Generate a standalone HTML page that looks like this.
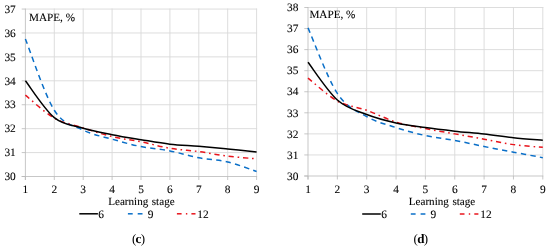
<!DOCTYPE html>
<html><head><meta charset="utf-8"><title>MAPE charts</title>
<style>
html,body{margin:0;padding:0;background:#fff;}
svg{display:block;}
text{font-family:"Liberation Serif","Times New Roman",serif;fill:#000;stroke:#000;stroke-width:0.09px;text-rendering:geometricPrecision;}
.t{font-size:11.4px;}
.cap{font-size:13px;stroke:none;letter-spacing:-0.6px;}
</style></head><body>
<svg width="550" height="249" viewBox="0 0 550 249">
<rect width="550" height="249" fill="#fff"/>

<g stroke="#d9d9d9" stroke-width="0.9" fill="none"><line x1="25.40" y1="9.05" x2="257.10" y2="9.05"/><line x1="25.40" y1="32.97" x2="257.10" y2="32.97"/><line x1="25.40" y1="56.89" x2="257.10" y2="56.89"/><line x1="25.40" y1="80.81" x2="257.10" y2="80.81"/><line x1="25.40" y1="104.74" x2="257.10" y2="104.74"/><line x1="25.40" y1="128.66" x2="257.10" y2="128.66"/><line x1="25.40" y1="152.58" x2="257.10" y2="152.58"/><line x1="54.30" y1="8.55" x2="54.30" y2="176.50"/><line x1="83.20" y1="8.55" x2="83.20" y2="176.50"/><line x1="112.10" y1="8.55" x2="112.10" y2="176.50"/><line x1="141.00" y1="8.55" x2="141.00" y2="176.50"/><line x1="169.90" y1="8.55" x2="169.90" y2="176.50"/><line x1="198.80" y1="8.55" x2="198.80" y2="176.50"/><line x1="227.70" y1="8.55" x2="227.70" y2="176.50"/><line x1="256.60" y1="8.55" x2="256.60" y2="176.50"/></g>
<g stroke="#b9b9b9" stroke-width="0.8" fill="none"><line x1="21.70" y1="9.05" x2="25.40" y2="9.05"/><line x1="21.70" y1="32.97" x2="25.40" y2="32.97"/><line x1="21.70" y1="56.89" x2="25.40" y2="56.89"/><line x1="21.70" y1="80.81" x2="25.40" y2="80.81"/><line x1="21.70" y1="104.74" x2="25.40" y2="104.74"/><line x1="21.70" y1="128.66" x2="25.40" y2="128.66"/><line x1="21.70" y1="152.58" x2="25.40" y2="152.58"/><line x1="21.70" y1="176.50" x2="25.40" y2="176.50"/><line x1="25.40" y1="176.50" x2="25.40" y2="180.00"/><line x1="54.30" y1="176.50" x2="54.30" y2="180.00"/><line x1="83.20" y1="176.50" x2="83.20" y2="180.00"/><line x1="112.10" y1="176.50" x2="112.10" y2="180.00"/><line x1="141.00" y1="176.50" x2="141.00" y2="180.00"/><line x1="169.90" y1="176.50" x2="169.90" y2="180.00"/><line x1="198.80" y1="176.50" x2="198.80" y2="180.00"/><line x1="227.70" y1="176.50" x2="227.70" y2="180.00"/><line x1="256.60" y1="176.50" x2="256.60" y2="180.00"/><line x1="25.40" y1="8.55" x2="25.40" y2="180.00"/><line x1="21.70" y1="176.50" x2="257.10" y2="176.50"/></g>
<text class="t" x="15.80" y="12.75" text-anchor="end">37</text>
<text class="t" x="15.80" y="36.67" text-anchor="end">36</text>
<text class="t" x="15.80" y="60.59" text-anchor="end">35</text>
<text class="t" x="15.80" y="84.51" text-anchor="end">34</text>
<text class="t" x="15.80" y="108.44" text-anchor="end">33</text>
<text class="t" x="15.80" y="132.36" text-anchor="end">32</text>
<text class="t" x="15.80" y="156.28" text-anchor="end">31</text>
<text class="t" x="15.80" y="180.20" text-anchor="end">30</text>
<text class="t" x="25.40" y="193.1" text-anchor="middle">1</text>
<text class="t" x="54.30" y="193.1" text-anchor="middle">2</text>
<text class="t" x="83.20" y="193.1" text-anchor="middle">3</text>
<text class="t" x="112.10" y="193.1" text-anchor="middle">4</text>
<text class="t" x="141.00" y="193.1" text-anchor="middle">5</text>
<text class="t" x="169.90" y="193.1" text-anchor="middle">6</text>
<text class="t" x="198.80" y="193.1" text-anchor="middle">7</text>
<text class="t" x="227.70" y="193.1" text-anchor="middle">8</text>
<text class="t" x="256.60" y="193.1" text-anchor="middle">9</text>
<text class="t" style="font-size:11.2px" x="29.00" y="20.75">MAPE, %</text>
<text class="t" style="font-size:11.1px;word-spacing:0.8px" x="141.40" y="205.10" text-anchor="middle">Learning stage</text>
<path d="M25.40,38.95C30.22,50.83 44.67,95.05 54.30,110.24C63.93,125.43 73.57,125.27 83.20,130.09C92.83,134.92 102.47,136.43 112.10,139.18C121.73,141.93 131.37,144.64 141.00,146.60C150.63,148.55 160.27,149.03 169.90,150.90C179.53,152.78 189.17,156.01 198.80,157.84C208.43,159.68 218.07,159.64 227.70,161.91C237.33,164.18 251.78,169.88 256.60,171.48" fill="none" stroke="#0a6fc8" stroke-width="1.5" stroke-dasharray="5.3 4.3"/>
<path d="M25.40,95.17C30.22,98.99 44.67,112.67 54.30,118.13C63.93,123.59 73.57,124.87 83.20,127.94C92.83,131.01 102.47,134.24 112.10,136.55C121.73,138.86 131.37,139.86 141.00,141.81C150.63,143.77 160.27,146.64 169.90,148.27C179.53,149.91 189.17,150.31 198.80,151.62C208.43,152.94 218.07,154.97 227.70,156.17C237.33,157.36 251.78,158.36 256.60,158.80" fill="none" stroke="#e8141c" stroke-width="1.5" stroke-dasharray="5.2 3.8 1.6 3.8"/>
<path d="M25.40,80.81C30.22,86.95 44.67,109.76 54.30,117.65C63.93,125.55 73.57,125.35 83.20,128.18C92.83,131.01 102.47,132.72 112.10,134.64C121.73,136.55 131.37,138.07 141.00,139.66C150.63,141.26 160.27,143.09 169.90,144.21C179.53,145.32 189.17,145.56 198.80,146.36C208.43,147.16 218.07,148.03 227.70,148.99C237.33,149.95 251.78,151.58 256.60,152.10" fill="none" stroke="#000" stroke-width="1.5"/>
<line x1="79.30" y1="213.8" x2="97.90" y2="213.8" stroke="#000" stroke-width="1.5"/>
<text class="t" x="98.30" y="217.60000000000002">6</text>
<line x1="127.90" y1="213.8" x2="132.70" y2="213.8" stroke="#0a6fc8" stroke-width="1.5"/><line x1="137.70" y1="213.8" x2="142.50" y2="213.8" stroke="#0a6fc8" stroke-width="1.5"/>
<text class="t" x="147.70" y="217.60000000000002">9</text>
<line x1="176.90" y1="213.8" x2="181.60" y2="213.8" stroke="#e8141c" stroke-width="1.5"/><line x1="185.90" y1="213.8" x2="187.30" y2="213.8" stroke="#e8141c" stroke-width="1.5"/><line x1="191.40" y1="213.8" x2="195.50" y2="213.8" stroke="#e8141c" stroke-width="1.5"/>
<text class="t" x="197.30" y="217.60000000000002">12</text>
<text class="cap" x="138.2" y="243" text-anchor="middle">(<tspan font-weight="bold">c</tspan>)</text>
<g stroke="#d9d9d9" stroke-width="0.9" fill="none"><line x1="308.00" y1="7.50" x2="543.30" y2="7.50"/><line x1="308.00" y1="28.56" x2="543.30" y2="28.56"/><line x1="308.00" y1="49.62" x2="543.30" y2="49.62"/><line x1="308.00" y1="70.69" x2="543.30" y2="70.69"/><line x1="308.00" y1="91.75" x2="543.30" y2="91.75"/><line x1="308.00" y1="112.81" x2="543.30" y2="112.81"/><line x1="308.00" y1="133.88" x2="543.30" y2="133.88"/><line x1="308.00" y1="154.94" x2="543.30" y2="154.94"/><line x1="337.35" y1="7.00" x2="337.35" y2="176.00"/><line x1="366.70" y1="7.00" x2="366.70" y2="176.00"/><line x1="396.05" y1="7.00" x2="396.05" y2="176.00"/><line x1="425.40" y1="7.00" x2="425.40" y2="176.00"/><line x1="454.75" y1="7.00" x2="454.75" y2="176.00"/><line x1="484.10" y1="7.00" x2="484.10" y2="176.00"/><line x1="513.45" y1="7.00" x2="513.45" y2="176.00"/><line x1="542.80" y1="7.00" x2="542.80" y2="176.00"/></g>
<g stroke="#b9b9b9" stroke-width="0.8" fill="none"><line x1="304.30" y1="7.50" x2="308.00" y2="7.50"/><line x1="304.30" y1="28.56" x2="308.00" y2="28.56"/><line x1="304.30" y1="49.62" x2="308.00" y2="49.62"/><line x1="304.30" y1="70.69" x2="308.00" y2="70.69"/><line x1="304.30" y1="91.75" x2="308.00" y2="91.75"/><line x1="304.30" y1="112.81" x2="308.00" y2="112.81"/><line x1="304.30" y1="133.88" x2="308.00" y2="133.88"/><line x1="304.30" y1="154.94" x2="308.00" y2="154.94"/><line x1="304.30" y1="176.00" x2="308.00" y2="176.00"/><line x1="308.00" y1="176.00" x2="308.00" y2="179.50"/><line x1="337.35" y1="176.00" x2="337.35" y2="179.50"/><line x1="366.70" y1="176.00" x2="366.70" y2="179.50"/><line x1="396.05" y1="176.00" x2="396.05" y2="179.50"/><line x1="425.40" y1="176.00" x2="425.40" y2="179.50"/><line x1="454.75" y1="176.00" x2="454.75" y2="179.50"/><line x1="484.10" y1="176.00" x2="484.10" y2="179.50"/><line x1="513.45" y1="176.00" x2="513.45" y2="179.50"/><line x1="542.80" y1="176.00" x2="542.80" y2="179.50"/><line x1="308.00" y1="7.00" x2="308.00" y2="179.50"/><line x1="304.30" y1="176.00" x2="543.30" y2="176.00"/></g>
<text class="t" x="298.40" y="11.20" text-anchor="end">38</text>
<text class="t" x="298.40" y="32.26" text-anchor="end">37</text>
<text class="t" x="298.40" y="53.33" text-anchor="end">36</text>
<text class="t" x="298.40" y="74.39" text-anchor="end">35</text>
<text class="t" x="298.40" y="95.45" text-anchor="end">34</text>
<text class="t" x="298.40" y="116.51" text-anchor="end">33</text>
<text class="t" x="298.40" y="137.57" text-anchor="end">32</text>
<text class="t" x="298.40" y="158.64" text-anchor="end">31</text>
<text class="t" x="298.40" y="179.70" text-anchor="end">30</text>
<text class="t" x="308.00" y="193.1" text-anchor="middle">1</text>
<text class="t" x="337.35" y="193.1" text-anchor="middle">2</text>
<text class="t" x="366.70" y="193.1" text-anchor="middle">3</text>
<text class="t" x="396.05" y="193.1" text-anchor="middle">4</text>
<text class="t" x="425.40" y="193.1" text-anchor="middle">5</text>
<text class="t" x="454.75" y="193.1" text-anchor="middle">6</text>
<text class="t" x="484.10" y="193.1" text-anchor="middle">7</text>
<text class="t" x="513.45" y="193.1" text-anchor="middle">8</text>
<text class="t" x="542.80" y="193.1" text-anchor="middle">9</text>
<text class="t" style="font-size:11.2px" x="309.40" y="18.20">MAPE, %</text>
<text class="t" style="font-size:11.1px;word-spacing:0.8px" x="442.00" y="204.60" text-anchor="middle">Learning stage</text>
<path d="M308.00,27.93C312.89,38.85 327.57,78.66 337.35,93.43C347.13,108.21 356.92,110.92 366.70,116.60C376.48,122.29 386.27,124.40 396.05,127.56C405.83,130.72 415.62,133.42 425.40,135.56C435.18,137.70 444.97,138.58 454.75,140.40C464.53,142.23 474.32,144.55 484.10,146.51C493.88,148.48 503.67,150.34 513.45,152.20C523.23,154.06 537.91,156.76 542.80,157.68" fill="none" stroke="#0a6fc8" stroke-width="1.5" stroke-dasharray="5.3 4.3"/>
<path d="M308.00,78.06C312.89,81.89 327.57,95.65 337.35,101.02C347.13,106.39 356.92,106.77 366.70,110.29C376.48,113.80 386.27,119.03 396.05,122.08C405.83,125.13 415.62,126.64 425.40,128.61C435.18,130.58 444.97,132.12 454.75,133.88C464.53,135.63 474.32,137.35 484.10,139.14C493.88,140.93 503.67,143.25 513.45,144.62C523.23,145.99 537.91,146.90 542.80,147.36" fill="none" stroke="#e8141c" stroke-width="1.5" stroke-dasharray="5.2 3.8 1.6 3.8"/>
<path d="M308.00,62.26C312.89,68.55 327.57,91.26 337.35,99.96C347.13,108.67 356.92,110.67 366.70,114.50C376.48,118.32 386.27,120.75 396.05,122.92C405.83,125.10 415.62,126.19 425.40,127.56C435.18,128.93 444.97,130.05 454.75,131.14C464.53,132.23 474.32,133.00 484.10,134.09C493.88,135.17 503.67,136.65 513.45,137.67C523.23,138.68 537.91,139.77 542.80,140.19" fill="none" stroke="#000" stroke-width="1.5"/>
<line x1="362.20" y1="214.0" x2="380.80" y2="214.0" stroke="#000" stroke-width="1.5"/>
<text class="t" x="381.20" y="217.8">6</text>
<line x1="410.80" y1="214.0" x2="415.60" y2="214.0" stroke="#0a6fc8" stroke-width="1.5"/><line x1="420.60" y1="214.0" x2="425.40" y2="214.0" stroke="#0a6fc8" stroke-width="1.5"/>
<text class="t" x="430.60" y="217.8">9</text>
<line x1="459.80" y1="214.0" x2="464.50" y2="214.0" stroke="#e8141c" stroke-width="1.5"/><line x1="468.80" y1="214.0" x2="470.20" y2="214.0" stroke="#e8141c" stroke-width="1.5"/><line x1="474.30" y1="214.0" x2="478.40" y2="214.0" stroke="#e8141c" stroke-width="1.5"/>
<text class="t" x="480.20" y="217.8">12</text>
<text class="cap" x="420.5" y="243" text-anchor="middle">(<tspan font-weight="bold">d</tspan>)</text>
</svg></body></html>
